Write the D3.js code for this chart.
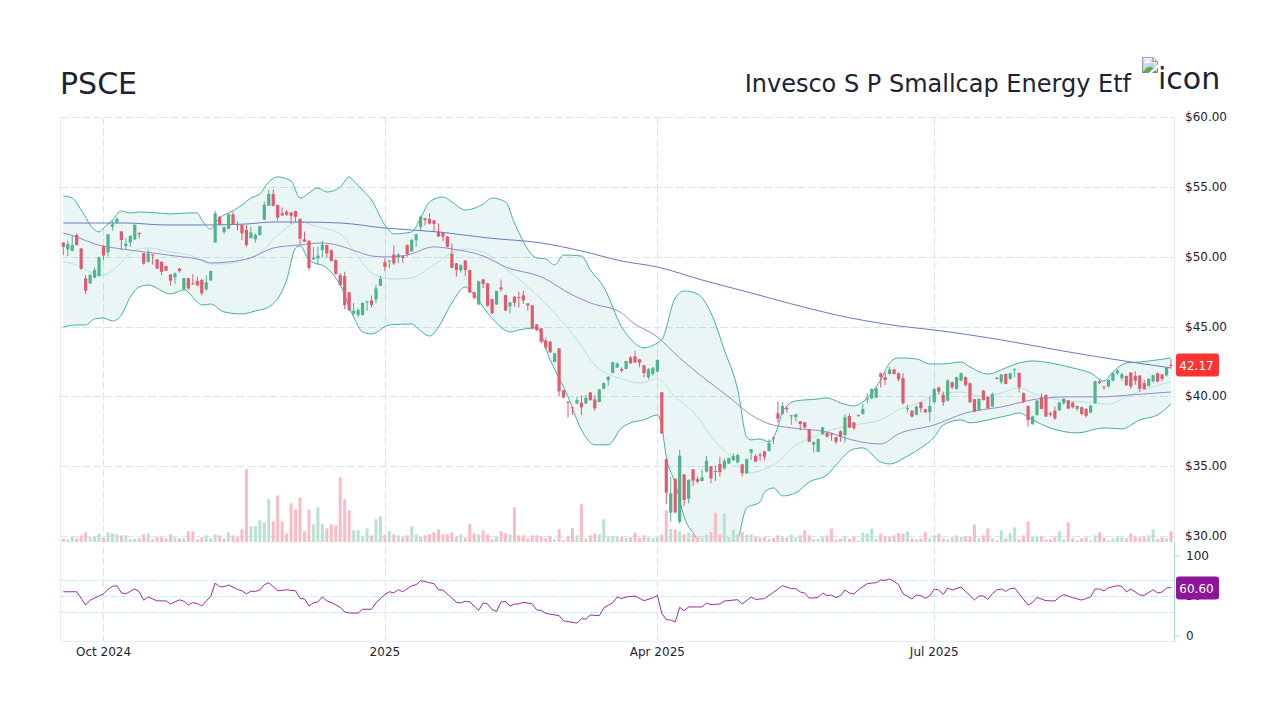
<!DOCTYPE html>
<html>
<head>
<meta charset="utf-8">
<script src="https://cdn.jsdelivr.net/npm/d3@7"></script>
<style>
html,body{margin:0;padding:0;background:#fff;width:1280px;height:720px;overflow:hidden}
svg{position:absolute;left:0;top:0}
svg text{font-family:"DejaVu Sans",sans-serif;fill:#1e2235}
#ic{position:absolute;left:1142px;top:57px;font:30px/44px "DejaVu Sans",sans-serif;color:#1e2235}
</style>
</head>
<body>
<svg id="c" width="1280" height="720"></svg>
<img id="ic" alt="icon" src="icon.png">
<script>
const ticker="PSCE";
const fundName="Invesco S P Smallcap Energy Etf";
const lastClose="42.17", lastRsi="60.60";
const priceTicks=[60,55,50,45,40,35,30];
const rsiGrid=[70,50,30];
const rsiTicks=[100,50,0];
const dateTickIndex=[9,72,133,195];
const dateTickLabels=["Oct 2024","2025","Apr 2025","Jul 2025"];

const opens=[51.02,50.52,50.43,51.55,50.59,48.45,48.09,48.49,48.61,50.76,50.31,52.15,52.46,51.81,50.76,51.02,51.24,51.69,50.24,49.64,
50.16,49.81,49.64,49.33,48.73,48.52,49.16,47.66,48.45,48.09,48.25,48.33,47.66,48.30,51.02,52.86,51.76,52.00,53.03,52.31,
52.27,51.91,51.33,51.24,51.55,52.65,53.65,54.49,53.70,53.10,53.22,53.17,53.27,52.70,51.24,51.14,49.81,49.88,50.47,50.83,
50.47,49.76,48.68,48.61,47.44,45.94,45.84,45.82,46.73,46.87,46.94,47.92,49.61,49.64,50.14,49.93,50.04,50.83,50.38,51.17,
52.14,52.74,52.69,52.60,51.79,51.69,51.43,50.19,49.52,49.02,49.73,49.04,47.44,46.58,48.37,48.09,46.97,46.58,47.80,47.25,
46.44,47.13,47.11,47.23,46.66,46.51,45.15,44.87,44.00,43.91,42.46,43.43,40.43,39.61,39.21,39.49,39.54,39.49,40.28,39.78,
39.59,40.55,41.17,41.69,42.05,41.96,41.96,42.77,42.86,42.65,42.22,41.36,41.60,41.77,40.29,35.49,31.67,34.08,31.03,34.40,
32.67,34.77,34.06,33.94,34.61,34.99,34.65,35.16,34.85,35.18,35.44,35.28,35.13,34.49,35.97,35.73,35.82,36.06,36.09,37.06,
38.78,38.74,39.17,38.62,38.52,38.21,38.14,37.64,36.54,36.04,37.28,37.38,37.30,37.06,37.49,37.23,38.59,38.14,38.57,38.74,
39.81,39.86,39.91,41.65,41.38,41.60,41.93,41.65,41.30,39.08,38.98,38.69,39.58,39.08,38.86,39.58,40.65,40.10,39.70,41.01,
40.53,41.13,41.37,40.94,39.79,38.98,40.41,39.96,39.27,41.32,41.01,41.60,41.25,41.89,41.68,40.22,39.31,38.00,38.67,39.93,
40.10,38.79,38.98,39.00,39.51,39.70,39.55,39.10,39.22,39.10,38.84,39.51,41.08,40.70,40.70,41.13,41.65,41.30,41.46,41.70,
41.46,41.49,40.94,40.75,41.06,41.65,41.56,41.51,42.25];
const closes=[50.71,50.90,50.83,50.83,49.14,47.56,48.68,49.04,49.95,50.09,51.60,52.31,52.70,51.19,50.93,51.48,52.27,51.62,49.50,50.24,
50.11,49.14,48.92,49.00,48.28,48.80,48.97,48.47,47.73,48.07,47.94,47.37,48.16,48.97,53.10,52.29,52.10,53.03,52.31,52.27,
51.67,50.83,51.74,51.55,52.19,53.72,54.49,53.65,52.79,52.96,53.01,52.93,52.86,51.29,51.07,49.19,49.93,50.07,50.86,50.23,
49.69,48.76,47.97,46.54,46.18,46.13,46.18,46.68,46.80,46.54,47.73,48.42,49.26,49.71,49.52,50.16,49.90,50.19,51.19,51.60,
52.86,52.62,52.38,52.34,51.45,51.43,50.71,49.21,49.04,49.38,49.04,47.44,47.06,48.23,48.04,46.49,45.94,47.54,47.66,46.15,
46.73,46.70,47.06,46.87,46.51,44.87,44.75,43.91,43.50,43.15,43.08,40.35,39.93,39.59,39.14,39.73,39.21,39.90,39.73,39.14,
40.50,40.95,41.40,42.45,42.36,41.84,42.53,42.36,42.43,42.41,41.67,41.93,42.05,42.60,37.35,33.10,33.05,31.69,35.75,32.58,
34.01,33.96,33.89,34.20,35.37,34.13,34.61,34.58,35.39,35.58,35.73,35.80,34.49,35.49,36.21,35.32,35.78,35.68,36.66,37.04,
38.40,39.31,39.07,38.64,38.71,38.02,37.76,36.75,36.71,36.95,37.78,37.11,37.26,36.75,37.11,38.50,37.76,37.71,38.66,39.09,
39.86,40.53,40.57,41.38,41.17,41.93,41.60,41.22,39.51,39.15,38.55,39.27,39.15,38.86,39.31,40.53,40.34,39.58,41.13,40.65,
41.37,41.65,40.82,39.58,38.91,39.82,39.74,39.15,40.17,41.30,41.56,40.89,41.65,41.94,40.65,39.58,38.31,38.55,39.70,39.10,
38.55,38.69,38.43,39.55,39.82,39.12,39.22,39.31,38.74,38.60,39.34,41.08,40.94,40.65,41.18,41.65,41.84,41.58,40.79,40.70,
41.13,40.53,40.53,41.25,41.51,41.06,41.25,42.08,42.17];
const highs=[51.02,51.14,51.50,51.67,50.59,48.68,48.76,49.21,50.00,50.81,51.62,52.58,52.81,51.84,51.31,51.55,52.34,51.76,50.28,50.52,
50.19,49.83,49.67,49.35,48.73,48.88,49.19,48.49,48.49,48.73,48.57,48.42,48.66,49.00,53.29,52.91,52.15,53.08,53.22,52.50,
52.29,52.27,52.15,51.67,52.22,53.94,54.77,54.82,53.72,53.53,53.34,53.20,53.29,52.74,51.79,51.19,50.71,50.71,51.14,50.86,
50.52,49.81,48.80,48.92,47.49,46.70,46.30,46.73,46.85,47.23,47.99,48.64,49.88,49.76,50.81,50.24,50.09,50.88,51.29,51.62,
52.91,52.79,53.10,52.62,52.38,51.74,51.48,50.95,49.54,49.47,49.76,49.07,47.49,48.28,48.42,48.11,46.99,47.56,48.37,47.28,
46.75,47.18,47.49,47.56,46.68,46.54,45.18,44.89,44.20,43.98,43.12,43.46,40.45,39.66,39.26,39.97,40.07,40.09,40.31,40.09,
40.52,41.00,41.45,42.48,42.41,42.08,42.55,42.89,43.27,42.67,42.24,42.03,42.08,42.65,40.31,35.51,34.25,34.13,36.16,34.44,
34.06,34.80,34.25,34.77,35.75,35.01,35.04,35.68,35.56,35.61,35.92,35.92,35.16,35.54,36.23,35.87,35.97,36.09,36.92,37.11,
39.62,39.60,39.31,38.66,38.76,38.24,38.16,37.66,36.78,36.97,37.81,37.45,37.40,37.11,37.57,38.71,38.76,38.16,38.71,39.45,
40.22,40.57,40.62,41.70,41.72,42.12,41.96,41.70,41.65,39.39,39.00,39.31,39.60,39.10,39.98,40.56,40.67,40.34,41.22,41.06,
41.41,41.72,41.41,40.99,39.82,39.86,40.46,39.98,40.27,41.39,41.60,41.63,41.70,42.01,41.70,40.27,39.34,38.60,39.72,40.22,
40.15,38.91,39.27,39.60,39.86,39.74,39.60,39.36,39.27,39.15,39.39,41.13,41.18,40.75,41.22,41.70,41.94,41.70,41.49,41.72,
41.80,41.51,41.18,41.30,41.56,41.70,41.60,42.13,42.66];
const lows=[50.11,50.04,50.36,50.81,49.04,47.32,48.04,48.45,48.57,49.76,50.00,51.86,52.34,50.47,50.52,50.71,51.19,51.31,49.43,49.57,
49.43,49.11,48.68,48.97,47.94,48.02,48.85,47.61,47.61,48.00,47.92,47.23,47.56,48.28,51.00,52.24,51.64,51.98,52.27,51.86,
51.19,50.71,51.31,51.00,51.50,52.62,53.63,53.58,52.58,52.91,52.91,52.34,52.50,50.90,51.05,49.00,49.76,49.40,49.95,49.95,
49.64,48.71,47.90,46.25,46.06,45.82,45.65,45.80,46.13,46.37,46.66,47.90,48.95,49.16,49.42,49.52,49.57,50.00,50.35,50.71,
51.91,52.24,52.31,51.74,51.40,51.12,50.66,49.16,48.56,48.85,48.61,47.37,46.94,46.54,47.75,46.42,45.89,46.54,47.51,46.11,
45.94,46.42,46.37,46.61,46.15,44.79,44.65,43.79,43.36,43.10,42.43,40.02,39.85,38.49,38.66,39.45,38.66,39.45,39.69,38.97,
39.57,40.52,40.76,41.64,42.03,41.70,41.93,42.32,42.41,42.08,41.36,41.22,41.48,41.72,37.30,32.29,31.03,31.62,30.86,32.17,
32.34,33.58,33.77,33.89,34.56,33.77,33.94,34.25,34.73,35.16,35.37,35.20,34.25,34.44,35.44,35.30,35.37,35.42,36.04,36.59,
38.12,38.69,38.83,37.97,38.21,37.57,37.73,36.71,35.97,35.99,37.23,37.06,36.83,36.59,36.75,36.68,37.71,37.59,38.55,38.69,
39.50,39.81,39.86,40.62,40.81,41.55,41.55,41.08,39.39,38.84,38.48,38.65,38.84,38.79,38.19,39.46,40.17,39.31,39.62,40.51,
40.46,41.08,40.70,39.51,38.86,38.93,39.70,39.10,39.22,41.22,40.87,40.87,41.20,41.37,40.27,39.51,37.83,37.98,38.60,39.08,
38.53,38.55,38.31,38.96,39.39,39.08,39.12,38.93,38.65,38.48,38.79,39.46,40.89,40.46,40.65,41.06,41.56,41.13,40.75,40.53,
40.82,40.34,40.46,40.70,41.01,40.99,41.06,41.41,41.99];

const volumes=[10,8,16,11,20,29,16,16,25,13,29,26,23,20,20,8,10,11,23,26,
8,16,14,11,23,14,11,11,32,32,8,14,20,11,23,20,11,29,20,14,
38,218,47,47,65,59,128,62,140,62,26,116,98,134,32,98,53,104,53,41,
53,50,194,128,95,35,35,17,41,20,68,77,23,32,23,20,14,20,47,23,
17,20,23,29,38,23,23,29,17,23,14,53,26,23,35,23,8,17,32,26,
23,104,20,20,11,20,20,17,11,17,8,38,5,17,41,20,113,11,20,26,
23,68,17,17,17,15,12,14,28,13,20,14,12,14,22,95,40,37,32,23,
28,23,17,13,22,30,88,22,85,15,37,23,30,22,23,15,13,15,10,12,
20,17,13,22,15,20,35,20,9,10,15,20,40,7,10,17,10,15,5,28,
25,40,10,25,17,15,20,27,25,32,11,8,11,31,11,20,25,11,8,13,
20,15,15,17,52,11,20,41,11,5,35,11,26,44,8,20,62,15,17,17,
8,8,14,32,8,59,11,5,11,14,5,20,29,14,5,11,14,14,11,26,
17,14,17,20,38,8,14,11,32];

const bbUpperIdx=[0,2,4,7,8,9,11,13,15,17,21,24,28,30,31,33,34,36,37,40,42,44,46,48,51,53,57,59,62,64,65,67,69,72,74,78,80,82,85,87,90,94,96,99,101,106,108,110,112,116,118,121,125,127,130,133,134,137,139,142,145,148,151,153,154,156,158,160,161,164,169,171,174,177,179,183,185,187,191,194,197,201,203,207,211,214,217,221,226,230,233,235,238,241,245,248];
const bbUpper=[54.35,54.2,53.34,51.91,51.77,52.05,52.63,53.27,53.13,53.2,53.13,53.06,53.13,53.13,52.63,51.98,52.41,52.99,53.13,53.7,54.2,54.49,55.35,55.71,55.42,54.2,54.92,54.63,54.99,55.71,55.42,54.77,54.06,52.27,51.63,51.77,52.77,53.92,54.27,53.92,53.34,53.77,54.2,53.92,52.41,49.91,49.84,49.41,50.12,50.05,49.05,47.83,44.97,44.11,43.47,43.82,44.04,47.04,47.54,47.33,45.97,43.32,40.46,37.1,36.88,36.95,36.74,37.81,38.88,39.67,39.81,39.89,39.53,39.31,39.6,41.17,42.39,42.75,42.68,42.32,42.32,42.46,42.1,41.6,42.03,42.39,42.53,42.39,42.03,41.67,41.1,41.75,42.39,42.46,42.61,42.75];
const bbLowerIdx=[0,3,5,7,9,11,13,15,17,19,24,27,30,31,33,36,40,43,46,50,52,53,55,59,62,65,67,69,73,78,80,82,84,87,90,91,95,97,100,102,106,109,113,116,119,122,125,127,130,133,134,135,137,139,142,144,146,149,151,153,156,157,159,161,164,167,171,173,177,179,183,185,189,192,195,197,201,203,207,212,214,217,221,227,233,237,241,245,248];
const bbLower=[44.97,45.11,45.11,45.54,45.61,45.4,45.83,47.12,47.83,47.97,47.33,47.62,46.76,46.54,46.61,46.04,45.9,46.11,46.4,48.33,50.62,50.77,49.76,49.19,47.97,45.68,44.61,44.47,45.11,45.18,44.68,44.32,44.97,46.69,47.83,47.62,45.97,45.25,44.61,44.75,44.9,42.61,39.96,37.6,36.53,36.53,37.74,38.1,38.32,38.67,37.81,35.66,33.8,31.37,29.65,27.93,26.5,27.6,29.65,32.01,32.44,33.16,33.44,32.87,33.09,33.87,34.37,35.09,36.23,36.31,35.3,35.16,35.73,36.31,37.09,37.95,38.31,38.1,38.31,38.67,38.81,38.31,37.74,37.38,37.74,37.67,38.31,38.67,39.46];
const bbMidIdx=[0,3,6,9,12,15,17,19,24,29,33,36,40,44,48,53,57,62,66,69,74,78,82,87,90,94,98,104,110,115,119,125,129,133,137,141,147,150,153,155,160,164,168,172,177,183,187,192,195,201,206,210,214,218,223,228,234,238,243,248];
const bbMid=[49.62,49.41,48.9,48.69,49.26,50.26,50.55,50.62,50.34,50.05,49.48,49.48,49.76,50.26,51.55,52.48,52.13,51.63,49.98,48.83,48.4,48.48,49.19,50.27,50.55,50.34,49.41,47.83,45.97,44.04,42.25,41.25,40.96,41.25,39.96,38.88,36.38,35.59,34.52,34.59,35.3,36.52,37.09,37.6,37.95,38.31,39.03,39.6,40.1,40.31,39.96,40.24,40.6,40.1,39.74,39.6,39.45,39.96,40.6,41.03];
const sma50Idx=[0,3,7,13,20,25,31,33,37,42,47,53,58,62,66,69,72,77,83,87,94,99,107,114,118,125,127,133,138,144,149,154,158,163,171,175,180,183,187,195,202,210,218,225,232,239,248];
const sma50=[51.7,51.41,50.91,50.55,50.27,50.05,49.76,49.55,49.62,49.91,50.62,50.84,50.98,50.77,50.34,50.05,49.98,50.12,50.7,50.55,50.05,49.26,48.55,47.26,46.69,45.97,45.4,44.25,42.75,41.17,39.96,38.67,38.03,37.74,37.45,37.02,36.66,36.59,37.31,37.95,38.81,39.24,39.81,39.96,39.96,40.1,40.31];
const sma200Idx=[0,14,23,32,41,47,53,62,72,84,95,107,116,125,133,143,154,163,173,187,195,210,225,239,248];
const sma200=[52.41,52.41,52.27,52.27,52.34,52.48,52.48,52.41,52.05,51.77,51.34,50.98,50.41,49.69,49.26,48.33,47.4,46.62,45.83,45.04,44.75,44.04,43.18,42.46,42.03];

const rsiIdx=[0,3,5,6,9,10,11,12,13,14,16,17,18,19,21,23,24,26,27,28,29,30,31,33,34,35,36,37,39,40,41,42,43,44,45,46,48,50,52,53,54,55,56,57,58,59,60,62,63,64,66,67,69,70,72,73,74,75,76,78,79,80,83,84,85,88,89,90,91,93,94,95,96,97,98,99,100,101,102,103,105,106,107,108,111,112,115,116,117,118,120,121,122,123,124,125,126,128,130,132,133,134,135,136,137,138,139,140,143,144,145,147,148,151,152,154,155,157,159,161,163,164,165,166,167,168,169,170,171,172,173,174,175,176,177,178,180,182,183,184,185,186,187,188,190,191,192,193,194,195,196,197,198,199,201,202,204,205,206,207,208,209,210,211,212,213,214,216,217,218,220,222,223,224,226,228,230,231,232,233,234,236,237,238,239,241,242,244,245,246,247,248];
const rsiVals=[55.3,55.3,38.8,44.7,52.7,58.2,62,62.8,54,52.7,59,55.3,44.7,48.9,43.9,43.9,40.1,45.2,43.5,38.8,41.8,40.5,37.6,49.8,66.2,61.6,61.6,63.7,58.2,56.5,52.7,56.1,55.7,57.4,64.1,66.6,56.5,57.8,56.5,47.3,46.4,37.6,41.4,42.6,48.9,43.9,41.8,35.9,30,28.7,28.7,33.4,33.4,41.4,51.9,55.3,54,57.8,55.3,62.8,64.1,69.2,65.4,57.8,57.4,42.2,41.4,43.5,42.6,32.1,41.4,40.1,32.9,30.8,42.6,43.1,37.6,39.7,40.1,42.2,40.1,32.5,32.1,28.3,25.4,19,16.1,21.6,21.2,26.2,25.4,35,38.4,41.4,48.9,46.8,48.75,50,44.2,47.5,50.8,28.3,20.4,20,17.5,35.8,31.7,36.3,36.3,41.25,39.2,40,43.75,45.4,40,48.75,45.8,46.7,54.6,62.9,59.2,59.2,55,53.75,47.5,47.5,48.3,53.75,50.4,51.25,47.9,50.4,57.5,53.75,52.5,57.9,65.4,66.7,70,69.6,71.25,68.3,64.2,52.9,46.25,51.25,50.4,47,50.4,58.75,57.5,52,60,57.5,61.25,55.8,45,50,50,45.8,52.9,57.5,58.75,55.8,59.2,60,52.9,38.75,42,48.3,44.2,43.75,48.75,51.7,47.9,45,48.75,58.75,58.75,56.25,60.4,62.9,62,55,58.75,51.25,50.8,57.9,53.75,55,60,60.6];

const C={up:"#4fb38c",down:"#e15a6e",volUp:"#b9e2d2",volDown:"#f8bcc4",band:"#44b0a3",fill:"rgba(38,166,154,0.1)",mid:"#b8e2db",
 sma50:"#9a88cc",sma200:"#6a79c6",rsi:"#8e1599",grid:"#d6e8ee",rsiGrid:"#c9eefb",frame:"#e4eef3",rsiAxis:"#a9d3da",red:"#ff3333"};

const svg=d3.select("#c");
const x=d3.scaleLinear().domain([0,248]).range([63.3,1171]);
const y=d3.scaleLinear().domain([60,30]).range([117,536]);
const yVol=d3.scaleLinear().domain([0,218]).range([542,469.3]);
const yRsi=d3.scaleLinear().domain([100,0]).range([556,636]);
const L=60,R=1174.5,T=117.5,MB=542,B=641.5;

svg.append("defs").append("clipPath").attr("id","mainClip").append("rect").attr("x",L).attr("y",T).attr("width",R-L).attr("height",MB-T);

// titles
svg.append("text").attr("x",60).attr("y",94).attr("font-size",30).text(ticker);
svg.append("text").attr("x",1131).attr("y",92).attr("text-anchor","end").attr("font-size",24).text(fundName);

// grid
const g=svg.append("g");
g.selectAll("line.h").data(priceTicks).join("line").attr("class","h").attr("x1",L).attr("x2",R).attr("y1",d=>Math.round(y(d))+.5).attr("y2",d=>Math.round(y(d))+.5)
 .attr("stroke",C.grid).attr("stroke-dasharray","8 3");
g.selectAll("line.v").data(dateTickIndex).join("line").attr("class","v").attr("x1",d=>Math.round(x(d))+.5).attr("x2",d=>Math.round(x(d))+.5).attr("y1",T).attr("y2",B)
 .attr("stroke",C.grid).attr("stroke-dasharray","8 3");
g.selectAll("line.r").data(rsiGrid).join("line").attr("class","r").attr("x1",L).attr("x2",R).attr("y1",d=>Math.round(yRsi(d))+.5).attr("y2",d=>Math.round(yRsi(d))+.5)
 .attr("stroke",C.rsiGrid).attr("stroke-dasharray","8 2");

// frame
g.append("line").attr("x1",L+.5).attr("x2",L+.5).attr("y1",T).attr("y2",B).attr("stroke",C.frame);
g.append("line").attr("x1",L).attr("x2",R).attr("y1",B).attr("y2",B).attr("stroke",C.frame);
g.append("line").attr("x1",R).attr("x2",R).attr("y1",T).attr("y2",MB).attr("stroke",C.frame);
g.append("line").attr("x1",R).attr("x2",R).attr("y1",MB).attr("y2",B).attr("stroke",C.rsiAxis);

const main=svg.append("g").attr("clip-path","url(#mainClip)");
const zip=(ix,v)=>ix.map((d,k)=>[d,v[k]]);
const line=d3.line().x(d=>x(d[0])).y(d=>y(d[1])).curve(d3.curveMonotoneX);
const upPts=zip(bbUpperIdx,bbUpper), loPts=zip(bbLowerIdx,bbLower);

// band
main.append("path").attr("fill",C.fill).attr("d",line(upPts)+"L"+line(loPts.slice().reverse()).slice(1)+"Z");
[[upPts,C.band],[loPts,C.band],[zip(bbMidIdx,bbMid),C.mid],[zip(sma50Idx,sma50),C.sma50],[zip(sma200Idx,sma200),C.sma200]].forEach(([p,col])=>{
  main.append("path").attr("d",line(p)).attr("fill","none").attr("stroke",col).attr("stroke-width",1);
});

// volume
const idx=d3.range(opens.length);
main.selectAll("rect.v").data(idx).join("rect").attr("class","v")
 .attr("x",i=>x(i)-1.5).attr("width",3).attr("y",i=>yVol(volumes[i])).attr("height",i=>yVol(0)-yVol(volumes[i]))
 .attr("fill",i=>closes[i]>=opens[i]?C.volUp:C.volDown);

// candles
const cg=main.append("g");
cg.selectAll("line").data(idx).join("line").attr("x1",i=>x(i)).attr("x2",i=>x(i)).attr("y1",i=>y(highs[i])).attr("y2",i=>y(lows[i]))
 .attr("stroke",i=>closes[i]>=opens[i]?C.up:C.down).attr("stroke-width",1);
cg.selectAll("rect").data(idx).join("rect").attr("x",i=>x(i)-1.6).attr("width",3.2)
 .attr("y",i=>y(Math.max(opens[i],closes[i]))).attr("height",i=>Math.max(1,Math.abs(y(opens[i])-y(closes[i]))))
 .attr("fill",i=>closes[i]>=opens[i]?C.up:C.down);

// rsi
svg.append("path").attr("fill","none").attr("stroke",C.rsi).attr("stroke-width",.9)
 .attr("d",d3.line().x(d=>x(d[0])).y(d=>yRsi(d[1]))(zip(rsiIdx,rsiVals)));

// axes
const tx=svg.append("g");
tx.selectAll("text.p").data(priceTicks).join("text").attr("class","p").attr("x",1185).attr("y",d=>y(d)+4).attr("font-size",12).text(d=>"$"+d.toFixed(2));
tx.selectAll("line.t").data(rsiTicks).join("line").attr("class","t").attr("x1",R).attr("x2",1180).attr("y1",d=>yRsi(d)).attr("y2",d=>yRsi(d)).attr("stroke",C.rsiAxis);
tx.selectAll("text.r").data(rsiTicks).join("text").attr("class","r").attr("x",1186).attr("y",d=>yRsi(d)+4).attr("font-size",12).text(d=>d);
tx.selectAll("text.d").data(dateTickIndex).join("text").attr("class","d").attr("x",d=>x(d)).attr("y",655.5).attr("text-anchor","middle").attr("font-size",12).text((d,k)=>dateTickLabels[k]);

// labels
function tag(cy,col,txt){
  svg.append("rect").attr("x",1176).attr("y",cy-11.5).attr("width",43).attr("height",23).attr("rx",3).attr("fill",col);
  svg.append("text").attr("x",1196.5).attr("y",cy+4.5).attr("text-anchor","middle").attr("font-size",12).style("fill","#fff").text(txt);
}
tag(y(+lastClose)-1,C.red,lastClose);
tag(588,C.rsi,lastRsi);
</script>
</body>
</html>
